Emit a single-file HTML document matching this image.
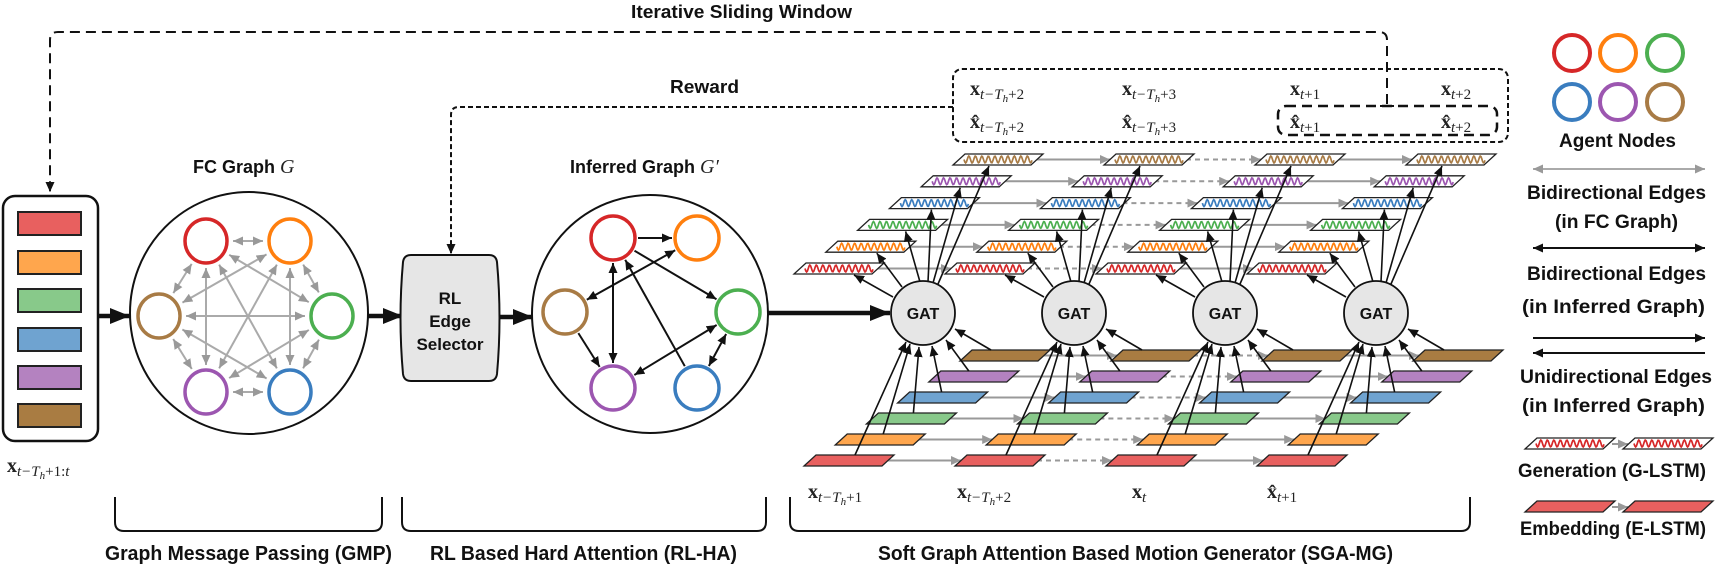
<!DOCTYPE html>
<html><head><meta charset="utf-8"><style>
html,body{margin:0;padding:0;background:#fff;}
svg{display:block;}
.b{font-family:"Liberation Sans",sans-serif;font-weight:bold;fill:#111;}
.m{font-family:"Liberation Serif",serif;fill:#222;}
</style></head><body>
<svg id="s" width="1717" height="571" viewBox="0 0 1717 571" xmlns="http://www.w3.org/2000/svg">
<defs>
<marker id="ak" markerUnits="userSpaceOnUse" markerWidth="10" markerHeight="9" refX="10" refY="4.5" orient="auto-start-reverse"><path d="M0,0 L10,4.5 L0,9 z" fill="#111"/></marker>
<marker id="ag" markerUnits="userSpaceOnUse" markerWidth="10" markerHeight="9" refX="10" refY="4.5" orient="auto-start-reverse"><path d="M0,0 L10,4.5 L0,9 z" fill="#999"/></marker>
<marker id="abig" markerUnits="userSpaceOnUse" markerWidth="20" markerHeight="16" refX="20" refY="8" orient="auto"><path d="M0,0 L20,8 L0,16 z" fill="#111"/></marker>
</defs>

<path d="M1387,104 V40 Q1387,32 1379,32 H58 Q50,32 50,40 V192" fill="none" stroke="#111" stroke-width="2" stroke-dasharray="10,6" marker-end="url(#ak)"/>
<line x1="1380" y1="106" x2="1394" y2="106" stroke="#111" stroke-width="2"/>
<text class="b" x="631" y="18" font-size="18" textLength="221" lengthAdjust="spacingAndGlyphs">Iterative Sliding Window</text>
<path d="M953,107 H459 Q451,107 451,115 V254" fill="none" stroke="#111" stroke-width="2" stroke-dasharray="5,3" marker-end="url(#ak)"/>
<text class="b" x="670" y="93" font-size="18" textLength="69" lengthAdjust="spacingAndGlyphs">Reward</text>

<rect x="953" y="69" width="555" height="73" rx="9" fill="none" stroke="#111" stroke-width="2" stroke-dasharray="5,3"/>
<rect x="1278" y="106" width="219" height="29" rx="8" fill="none" stroke="#111" stroke-width="2.5" stroke-dasharray="10,6"/>

<g class="m" font-size="20">
<text x="970" y="95"><tspan font-weight="bold">x</tspan><tspan font-size="15" font-style="italic" dy="4">t−T</tspan><tspan font-size="11" font-style="italic" dy="3">h</tspan><tspan font-size="15" dy="-3">+2</tspan></text>
<text x="1122" y="95"><tspan font-weight="bold">x</tspan><tspan font-size="15" font-style="italic" dy="4">t−T</tspan><tspan font-size="11" font-style="italic" dy="3">h</tspan><tspan font-size="15" dy="-3">+3</tspan></text>
<text x="1290" y="95"><tspan font-weight="bold">x</tspan><tspan font-size="15" font-style="italic" dy="4">t</tspan><tspan font-size="15">+1</tspan></text>
<text x="1441" y="95"><tspan font-weight="bold">x</tspan><tspan font-size="15" font-style="italic" dy="4">t</tspan><tspan font-size="15">+2</tspan></text>
<text x="970" y="128"><tspan font-weight="bold">x̂</tspan><tspan font-size="15" font-style="italic" dy="4">t−T</tspan><tspan font-size="11" font-style="italic" dy="3">h</tspan><tspan font-size="15" dy="-3">+2</tspan></text>
<text x="1122" y="128"><tspan font-weight="bold">x̂</tspan><tspan font-size="15" font-style="italic" dy="4">t−T</tspan><tspan font-size="11" font-style="italic" dy="3">h</tspan><tspan font-size="15" dy="-3">+3</tspan></text>
<text x="1290" y="128"><tspan font-weight="bold">x̂</tspan><tspan font-size="15" font-style="italic" dy="4">t</tspan><tspan font-size="15">+1</tspan></text>
<text x="1441" y="128"><tspan font-weight="bold">x̂</tspan><tspan font-size="15" font-style="italic" dy="4">t</tspan><tspan font-size="15">+2</tspan></text>
</g>

<rect x="3" y="196" width="95" height="245" rx="12" fill="#fff" stroke="#111" stroke-width="2.5"/>
<g stroke="#222" stroke-width="2">
<rect x="18" y="212" width="63" height="23" fill="#e8605f"/>
<rect x="18" y="251" width="63" height="23" fill="#ffa64d"/>
<rect x="18" y="289" width="63" height="23" fill="#88c98a"/>
<rect x="18" y="328" width="63" height="23" fill="#6fa3d0"/>
<rect x="18" y="366" width="63" height="23" fill="#b482c0"/>
<rect x="18" y="404" width="63" height="23" fill="#a97c42"/>
</g>
<text class="m" x="7" y="472" font-size="20"><tspan font-weight="bold">x</tspan><tspan font-size="15" font-style="italic" dy="4">t−T</tspan><tspan font-size="11" font-style="italic" dy="3">h</tspan><tspan font-size="15" dy="-3">+1:</tspan><tspan font-size="15" font-style="italic">t</tspan></text>

<g stroke="#111" stroke-width="4.5" marker-end="url(#abig)">
<line x1="98" y1="316" x2="130" y2="316"/>
<line x1="368" y1="316" x2="403" y2="316"/>
<line x1="497" y1="317" x2="533" y2="317"/>
<line x1="768" y1="313" x2="890" y2="313"/>
</g>

<text x="193" y="173" font-size="18"><tspan class="b">FC Graph </tspan><tspan class="m" font-style="italic" font-size="20">G</tspan></text>
<ellipse cx="249" cy="313" rx="119" ry="121" fill="none" stroke="#111" stroke-width="2"/>
<g id="fc"></g>

<path d="M411,255 H489 Q496,255 497,262 Q502,318 497,374 Q496,381 489,381 H411 Q404,381 403,374 Q398,318 403,262 Q404,255 411,255 Z" fill="#e6e6e6" stroke="#111" stroke-width="2"/>
<g class="b" font-size="17" text-anchor="middle">
<text x="450" y="304">RL</text>
<text x="450" y="327">Edge</text>
<text x="450" y="350">Selector</text>
</g>

<text x="570" y="173" font-size="18"><tspan class="b">Inferred Graph </tspan><tspan class="m" font-style="italic" font-size="20">G′</tspan></text>
<ellipse cx="650" cy="314" rx="118" ry="119" fill="none" stroke="#111" stroke-width="2"/>
<g id="inf"></g>

<g id="sga"></g>

<g class="m" font-size="20">
<text x="808" y="498"><tspan font-weight="bold">x</tspan><tspan font-size="15" font-style="italic" dy="4">t−T</tspan><tspan font-size="11" font-style="italic" dy="3">h</tspan><tspan font-size="15" dy="-3">+1</tspan></text>
<text x="957" y="498"><tspan font-weight="bold">x</tspan><tspan font-size="15" font-style="italic" dy="4">t−T</tspan><tspan font-size="11" font-style="italic" dy="3">h</tspan><tspan font-size="15" dy="-3">+2</tspan></text>
<text x="1132" y="498"><tspan font-weight="bold">x</tspan><tspan font-size="15" font-style="italic" dy="4">t</tspan></text>
<text x="1267" y="498"><tspan font-weight="bold">x̂</tspan><tspan font-size="15" font-style="italic" dy="4">t</tspan><tspan font-size="15">+1</tspan></text>
</g>

<g fill="none" stroke="#111" stroke-width="2">
<path d="M115,497 V522 Q115,531 124,531 H373 Q382,531 382,522 V497"/>
<path d="M402,497 V522 Q402,531 411,531 H757 Q766,531 766,522 V497"/>
<path d="M790,497 V522 Q790,531 799,531 H1461 Q1470,531 1470,522 V497"/>
</g>
<g class="b" font-size="20">
<text x="105" y="560" textLength="287" lengthAdjust="spacingAndGlyphs">Graph Message Passing (GMP)</text>
<text x="430" y="560" textLength="307" lengthAdjust="spacingAndGlyphs">RL Based Hard Attention (RL-HA)</text>
<text x="878" y="560" textLength="515" lengthAdjust="spacingAndGlyphs">Soft Graph Attention Based Motion Generator (SGA-MG)</text>
</g>

<g fill="none" stroke-width="4">
<circle cx="1572" cy="53" r="18" stroke="#d62728"/>
<circle cx="1618" cy="53" r="18" stroke="#ff7f0e"/>
<circle cx="1665" cy="53" r="18" stroke="#4caf50"/>
<circle cx="1572" cy="102" r="18" stroke="#3a7dbf"/>
<circle cx="1618" cy="102" r="18" stroke="#9c56b0"/>
<circle cx="1665" cy="102" r="18" stroke="#a87b45"/>
</g>
<line x1="1533" y1="169" x2="1705" y2="169" stroke="#aaa" stroke-width="2" marker-start="url(#ag)" marker-end="url(#ag)"/>
<line x1="1533" y1="248" x2="1705" y2="248" stroke="#111" stroke-width="2" marker-start="url(#ak)" marker-end="url(#ak)"/>
<line x1="1533" y1="338" x2="1705" y2="338" stroke="#111" stroke-width="2" marker-end="url(#ak)"/>
<line x1="1705" y1="353" x2="1533" y2="353" stroke="#111" stroke-width="2" marker-end="url(#ak)"/>
<g id="leg"></g>
<g class="b" font-size="19">
<text x="1559" y="147" textLength="117" lengthAdjust="spacingAndGlyphs">Agent Nodes</text>
<text x="1527" y="199" textLength="179" lengthAdjust="spacingAndGlyphs">Bidirectional Edges</text>
<text x="1555" y="228" textLength="123" lengthAdjust="spacingAndGlyphs">(in FC Graph)</text>
<text x="1527" y="280" textLength="179" lengthAdjust="spacingAndGlyphs">Bidirectional Edges</text>
<text x="1522" y="313" textLength="183" lengthAdjust="spacingAndGlyphs">(in Inferred Graph)</text>
<text x="1520" y="383" textLength="192" lengthAdjust="spacingAndGlyphs">Unidirectional Edges</text>
<text x="1522" y="412" textLength="183" lengthAdjust="spacingAndGlyphs">(in Inferred Graph)</text>
<text x="1518" y="477" textLength="188" lengthAdjust="spacingAndGlyphs">Generation (G-LSTM)</text>
<text x="1520" y="535" textLength="186" lengthAdjust="spacingAndGlyphs">Embedding (E-LSTM)</text>
</g>
</svg>
<script>
(function(){
var NS="http://www.w3.org/2000/svg";
function el(p,t,a){var e=document.createElementNS(NS,t);for(var k in a)e.setAttribute(k,a[k]);p.appendChild(e);return e;}
var col=["#d62728","#ff7f0e","#4caf50","#3a7dbf","#9c56b0","#a87b45"];
var fillc=["#e8605f","#ffa64d","#88c98a","#6fa3d0","#b482c0","#a97c42"];
function shortLine(p,a,b,r1,r2,attrs){var dx=b[0]-a[0],dy=b[1]-a[1],L=Math.sqrt(dx*dx+dy*dy);var ux=dx/L,uy=dy/L;
 attrs.x1=a[0]+ux*r1;attrs.y1=a[1]+uy*r1;attrs.x2=b[0]-ux*r2;attrs.y2=b[1]-uy*r2;return el(p,"line",attrs);}
var fc=document.getElementById("fc");
var fn=[[206,241],[290,241],[332,316],[290,392],[206,392],[159,316]];
for(var i=0;i<6;i++)for(var j=i+1;j<6;j++){
 shortLine(fc,fn[i],fn[j],27,27,{stroke:"#aaa","stroke-width":2,"marker-start":"url(#ag)","marker-end":"url(#ag)"});}
for(var i=0;i<6;i++)el(fc,"ellipse",{cx:fn[i][0],cy:fn[i][1],rx:21,ry:22,fill:"#fff",stroke:col[i],"stroke-width":3.5});
var inf=document.getElementById("inf");
var N={R:[613,238],O:[697,238],G:[738,312],B:[697,388],P:[613,388],Br:[565,312]};
var E=[["R","O",0],["R","G",0],["O","Br",1],["R","P",1],["B","R",0],["Br","P",0],["G","P",1],["G","B",1]];
E.forEach(function(e){var a={stroke:"#111","stroke-width":2,"marker-end":"url(#ak)"};if(e[2])a["marker-start"]="url(#ak)";
 shortLine(inf,N[e[0]],N[e[1]],25,25,a);});
var order=["R","O","G","B","P","Br"];
order.forEach(function(k,i){el(inf,"ellipse",{cx:N[k][0],cy:N[k][1],rx:22,ry:22,fill:"#fff",stroke:col[i],"stroke-width":3.5});});
var g=document.getElementById("sga");
var W=78,S=12,H=11,DX=151;
function para(p,x,y,fill,stroke){return el(p,"path",{d:"M"+x+","+y+" L"+(x+W)+","+y+" L"+(x+W+S)+","+(y-H)+" L"+(x+S)+","+(y-H)+" Z",fill:fill,stroke:stroke,"stroke-width":1.3});}
function wave(p,x,y,c){var x0=x+S/2+5,x1=x+W+S/2-5,ym=y-H/2,d="";for(var t=x0;t<=x1;t+=0.8){d+=(t==x0?"M":"L")+t.toFixed(1)+","+(ym+3.4*Math.sin((t-x0)/6.5*2*Math.PI)).toFixed(1);}
 el(p,"path",{d:d,fill:"none",stroke:c,"stroke-width":1.7});}
var gl=el(g,"g",{}),gp=el(g,"g",{}),ga=el(g,"g",{});
var gx=[],gy=[],ex=[],ey=[];
for(var i=0;i<6;i++){gx.push(794+31.8*i);gy.push(274-21.8*i);ex.push(804+31.2*i);ey.push(466-21*i);}
for(var k=0;k<4;k++){
 var cx=923+151*k,cy=313;
 if(k<3){for(var i=0;i<6;i++){
  var a={stroke:"#999","stroke-width":2,"marker-end":"url(#ag)"};if(k==1)a["stroke-dasharray"]="5,4";
  el(gl,"line",Object.assign({x1:gx[i]+k*DX+W+S/2-2,y1:gy[i]-H/2,x2:gx[i]+(k+1)*DX+S/2,y2:gy[i]-H/2},a));
  var b={stroke:"#999","stroke-width":2,"marker-end":"url(#ag)"};if(k==1)b["stroke-dasharray"]="5,4";
  el(gl,"line",Object.assign({x1:ex[i]+k*DX+W+S/2-2,y1:ey[i]-H/2,x2:ex[i]+(k+1)*DX+S/2,y2:ey[i]-H/2},b));}}
 for(var i=5;i>=0;i--){
  para(gp,gx[i]+k*DX,gy[i],"#fff","#222");wave(gp,gx[i]+k*DX,gy[i],col[i]);
  para(gp,ex[i]+k*DX,ey[i],fillc[i],"#222");}
 var so=[[-30,-16],[-21,-26],[-3,-31],[5,-31],[10,-30],[15,-29]];
 var to=[60,51,48,42,39,36];
 for(var i=0;i<6;i++)el(ga,"line",{x1:cx+so[i][0],y1:cy+so[i][1],x2:gx[i]+k*DX+to[i],y2:gy[i]+1,stroke:"#111","stroke-width":1.6,"marker-end":"url(#ak)"});
 var eo=[51,48,47,44,40,31];
 var tt=[[-17,27],[-13,29],[-4,32],[9,31],[23,25],[32,14]];
 for(var i=0;i<6;i++)el(ga,"line",{x1:ex[i]+k*DX+eo[i],y1:ey[i]-H,x2:cx+tt[i][0],y2:cy+tt[i][1]+2,stroke:"#111","stroke-width":1.6,"marker-end":"url(#ak)"});
 el(ga,"circle",{cx:cx,cy:cy,r:32,fill:"#e6e6e6",stroke:"#111","stroke-width":1.8});
 var t=el(ga,"text",{x:cx,y:cy+6,"text-anchor":"middle","class":"b","font-size":16});t.textContent="GAT";
}
var lg=document.getElementById("leg");
el(lg,"line",{x1:1612,y1:444,x2:1628,y2:444,stroke:"#999","stroke-width":2,"marker-end":"url(#ag)"});
el(lg,"line",{x1:1612,y1:507,x2:1628,y2:507,stroke:"#999","stroke-width":2,"marker-end":"url(#ag)"});
[1525,1623].forEach(function(x){para(lg,x,449,"#fff","#222");wave(lg,x,449,col[0]);para(lg,x,512,fillc[0],"#222");});
})();
</script>
</body></html>
